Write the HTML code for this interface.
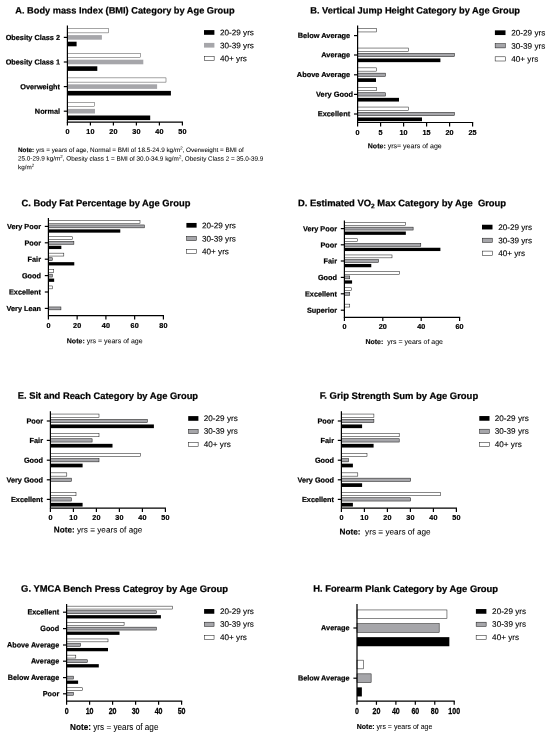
<!DOCTYPE html>
<html lang="en">
<head>
<meta charset="utf-8">
<title>Fitness categories by age group</title>
<style>
html,body{margin:0;padding:0;background:#fff;}
body{width:550px;height:736px;overflow:hidden;}
svg{display:block;font-family:"Liberation Sans",Arial,Helvetica,sans-serif;fill:#000;}
text{stroke:#000;stroke-width:0.12px;}
text.b,text tspan.b{stroke-width:0.22px;}
.nt text{stroke-width:0.04px;}
.nt text tspan.b{stroke-width:0.14px;}
</style>
</head>
<body>
<svg width="550" height="736" viewBox="0 0 550 736">
<defs><filter id="soft" x="0" y="0" width="550" height="736" filterUnits="userSpaceOnUse" color-interpolation-filters="sRGB"><feGaussianBlur stdDeviation="0.35"/></filter></defs>
<rect x="0" y="0" width="550" height="736" fill="#fff"/>
<g filter="url(#soft)">
<rect x="0" y="0" width="550" height="736" fill="#fff"/>
<g id="panelA">
<text transform="translate(124.90 13.50) matrix(1 0.0005 0 1 0 0)" text-anchor="middle" font-weight="bold" class="b" font-size="9.24" xml:space="preserve" style="white-space:pre">A. Body mass Index (BMI) Category by Age Group</text>
<rect x="67.40" y="28.70" width="41.10" height="4.2" fill="#fff" stroke="#111" stroke-width="0.38"/>
<rect x="67.40" y="35.10" width="34.50" height="4.6000000000000005" fill="#a6a6aa"/>
<rect x="67.40" y="41.70" width="9.20" height="4.6000000000000005" fill="#000"/>
<line x1="63.80" y1="37.4" x2="67.40" y2="37.4" stroke="#000" stroke-width="1.2"/>
<text transform="translate(60.00 40.00) matrix(1 0.0005 0 1 0 0)" text-anchor="end" font-weight="bold" class="b" font-size="7.3">Obesity Class 2</text>
<rect x="67.40" y="53.30" width="73.30" height="4.2" fill="#fff" stroke="#111" stroke-width="0.38"/>
<rect x="67.40" y="59.70" width="75.90" height="4.6000000000000005" fill="#a6a6aa"/>
<rect x="67.40" y="66.30" width="29.90" height="4.6000000000000005" fill="#000"/>
<line x1="63.80" y1="62" x2="67.40" y2="62" stroke="#000" stroke-width="1.2"/>
<text transform="translate(60.00 64.60) matrix(1 0.0005 0 1 0 0)" text-anchor="end" font-weight="bold" class="b" font-size="7.3">Obesity Class 1</text>
<rect x="67.40" y="77.90" width="98.60" height="4.2" fill="#fff" stroke="#111" stroke-width="0.38"/>
<rect x="67.40" y="84.30" width="89.70" height="4.6000000000000005" fill="#a6a6aa"/>
<rect x="67.40" y="90.90" width="103.50" height="4.6000000000000005" fill="#000"/>
<line x1="63.80" y1="86.6" x2="67.40" y2="86.6" stroke="#000" stroke-width="1.2"/>
<text transform="translate(60.00 89.20) matrix(1 0.0005 0 1 0 0)" text-anchor="end" font-weight="bold" class="b" font-size="7.3">Overweight</text>
<rect x="67.40" y="102.50" width="27.30" height="4.2" fill="#fff" stroke="#111" stroke-width="0.38"/>
<rect x="67.40" y="108.90" width="27.60" height="4.6000000000000005" fill="#a6a6aa"/>
<rect x="67.40" y="115.50" width="82.80" height="4.6000000000000005" fill="#000"/>
<line x1="63.80" y1="111.2" x2="67.40" y2="111.2" stroke="#000" stroke-width="1.2"/>
<text transform="translate(60.00 113.80) matrix(1 0.0005 0 1 0 0)" text-anchor="end" font-weight="bold" class="b" font-size="7.3">Normal</text>
<polyline points="67.40,25.6 67.40,122.1 183.00,122.1" fill="none" stroke="#000" stroke-width="1.2"/>
<line x1="67.40" y1="122.1" x2="67.40" y2="125.39999999999999" stroke="#000" stroke-width="1.2"/>
<text transform="translate(67.40 134.15) matrix(1 0.0005 0 1 0 0) scale(0.940 1.000)" text-anchor="middle" font-weight="bold" class="b" font-size="7.7">0</text>
<line x1="90.40" y1="122.1" x2="90.40" y2="125.39999999999999" stroke="#000" stroke-width="1.2"/>
<text transform="translate(90.40 134.15) matrix(1 0.0005 0 1 0 0) scale(0.940 1.000)" text-anchor="middle" font-weight="bold" class="b" font-size="7.7">10</text>
<line x1="113.40" y1="122.1" x2="113.40" y2="125.39999999999999" stroke="#000" stroke-width="1.2"/>
<text transform="translate(113.40 134.15) matrix(1 0.0005 0 1 0 0) scale(0.940 1.000)" text-anchor="middle" font-weight="bold" class="b" font-size="7.7">20</text>
<line x1="136.40" y1="122.1" x2="136.40" y2="125.39999999999999" stroke="#000" stroke-width="1.2"/>
<text transform="translate(136.40 134.15) matrix(1 0.0005 0 1 0 0) scale(0.940 1.000)" text-anchor="middle" font-weight="bold" class="b" font-size="7.7">30</text>
<line x1="159.40" y1="122.1" x2="159.40" y2="125.39999999999999" stroke="#000" stroke-width="1.2"/>
<text transform="translate(159.40 134.15) matrix(1 0.0005 0 1 0 0) scale(0.940 1.000)" text-anchor="middle" font-weight="bold" class="b" font-size="7.7">40</text>
<line x1="182.40" y1="122.1" x2="182.40" y2="125.39999999999999" stroke="#000" stroke-width="1.2"/>
<text transform="translate(182.40 134.15) matrix(1 0.0005 0 1 0 0) scale(0.940 1.000)" text-anchor="middle" font-weight="bold" class="b" font-size="7.7">50</text>
<rect x="204" y="30.10" width="10.40" height="4.7" fill="#000"/>
<text transform="translate(220.00 35.35) matrix(1 0.0005 0 1 0 0)" font-size="8.15">20-29 yrs</text>
<rect x="204" y="42.90" width="10.40" height="4.7" fill="#a6a6aa"/>
<text transform="translate(220.00 48.15) matrix(1 0.0005 0 1 0 0)" font-size="8.15">30-39 yrs</text>
<rect x="204.25" y="56.35" width="9.90" height="4.2" fill="#fff" stroke="#111" stroke-width="0.5"/>
<text transform="translate(220.00 61.35) matrix(1 0.0005 0 1 0 0)" font-size="8.15">40+ yrs</text>
</g>
<g id="panelB">
<text transform="translate(415.10 13.50) matrix(1 0.0005 0 1 0 0)" text-anchor="middle" font-weight="bold" class="b" font-size="9.28" xml:space="preserve" style="white-space:pre">B. Vertical Jump Height Category by Age Group</text>
<rect x="357.60" y="28.65" width="18.65" height="3.3" fill="#fff" stroke="#111" stroke-width="0.5"/>
<line x1="354.00" y1="35.6" x2="357.60" y2="35.6" stroke="#000" stroke-width="1.2"/>
<text transform="translate(350.20 37.90) matrix(1 0.0005 0 1 0 0) scale(1.015 1.000)" text-anchor="end" font-weight="bold" class="b" font-size="7.3">Below Average</text>
<rect x="357.60" y="48.05" width="50.85" height="3.3" fill="#fff" stroke="#111" stroke-width="0.5"/>
<rect x="357.60" y="53.35" width="96.85" height="3.3" fill="#a6a6aa" stroke="#111" stroke-width="0.5"/>
<rect x="357.60" y="58.45" width="82.80" height="3.6999999999999997" fill="#000"/>
<line x1="354.00" y1="55" x2="357.60" y2="55" stroke="#000" stroke-width="1.2"/>
<text transform="translate(350.20 57.30) matrix(1 0.0005 0 1 0 0) scale(1.015 1.000)" text-anchor="end" font-weight="bold" class="b" font-size="7.3">Average</text>
<rect x="357.60" y="67.85" width="18.65" height="3.3" fill="#fff" stroke="#111" stroke-width="0.5"/>
<rect x="357.60" y="73.15" width="27.85" height="3.3" fill="#a6a6aa" stroke="#111" stroke-width="0.5"/>
<rect x="357.60" y="78.25" width="18.40" height="3.6999999999999997" fill="#000"/>
<line x1="354.00" y1="74.8" x2="357.60" y2="74.8" stroke="#000" stroke-width="1.2"/>
<text transform="translate(350.20 77.10) matrix(1 0.0005 0 1 0 0) scale(1.015 1.000)" text-anchor="end" font-weight="bold" class="b" font-size="7.3">Above Average</text>
<rect x="357.60" y="87.45" width="18.65" height="3.3" fill="#fff" stroke="#111" stroke-width="0.5"/>
<rect x="357.60" y="92.75" width="27.85" height="3.3" fill="#a6a6aa" stroke="#111" stroke-width="0.5"/>
<rect x="357.60" y="97.85" width="41.40" height="3.6999999999999997" fill="#000"/>
<line x1="354.00" y1="94.4" x2="357.60" y2="94.4" stroke="#000" stroke-width="1.2"/>
<text transform="translate(353.00 96.70) matrix(1 0.0005 0 1 0 0) scale(1.015 1.000)" text-anchor="end" font-weight="bold" class="b" font-size="7.3">Very Good</text>
<rect x="357.60" y="107.05" width="50.85" height="3.3" fill="#fff" stroke="#111" stroke-width="0.5"/>
<rect x="357.60" y="112.35" width="96.85" height="3.3" fill="#a6a6aa" stroke="#111" stroke-width="0.5"/>
<rect x="357.60" y="117.45" width="64.40" height="3.6999999999999997" fill="#000"/>
<line x1="354.00" y1="114" x2="357.60" y2="114" stroke="#000" stroke-width="1.2"/>
<text transform="translate(350.20 116.30) matrix(1 0.0005 0 1 0 0) scale(1.015 1.000)" text-anchor="end" font-weight="bold" class="b" font-size="7.3">Excellent</text>
<polyline points="357.60,25.6 357.60,122.5 473.20,122.5" fill="none" stroke="#000" stroke-width="1.2"/>
<line x1="357.60" y1="122.5" x2="357.60" y2="126.5" stroke="#000" stroke-width="1.2"/>
<text transform="translate(357.60 135.15) matrix(1 0.0005 0 1 0 0) scale(0.940 1.000)" text-anchor="middle" font-weight="bold" class="b" font-size="7.7">0</text>
<line x1="380.60" y1="122.5" x2="380.60" y2="126.5" stroke="#000" stroke-width="1.2"/>
<text transform="translate(380.60 135.15) matrix(1 0.0005 0 1 0 0) scale(0.940 1.000)" text-anchor="middle" font-weight="bold" class="b" font-size="7.7">5</text>
<line x1="403.60" y1="122.5" x2="403.60" y2="126.5" stroke="#000" stroke-width="1.2"/>
<text transform="translate(403.60 135.15) matrix(1 0.0005 0 1 0 0) scale(0.940 1.000)" text-anchor="middle" font-weight="bold" class="b" font-size="7.7">10</text>
<line x1="426.60" y1="122.5" x2="426.60" y2="126.5" stroke="#000" stroke-width="1.2"/>
<text transform="translate(426.60 135.15) matrix(1 0.0005 0 1 0 0) scale(0.940 1.000)" text-anchor="middle" font-weight="bold" class="b" font-size="7.7">15</text>
<line x1="449.60" y1="122.5" x2="449.60" y2="126.5" stroke="#000" stroke-width="1.2"/>
<text transform="translate(449.60 135.15) matrix(1 0.0005 0 1 0 0) scale(0.940 1.000)" text-anchor="middle" font-weight="bold" class="b" font-size="7.7">20</text>
<line x1="472.60" y1="122.5" x2="472.60" y2="126.5" stroke="#000" stroke-width="1.2"/>
<text transform="translate(472.60 135.15) matrix(1 0.0005 0 1 0 0) scale(0.940 1.000)" text-anchor="middle" font-weight="bold" class="b" font-size="7.7">25</text>
<rect x="494.9" y="30.35" width="10.60" height="4.7" fill="#000"/>
<text transform="translate(511.30 35.60) matrix(1 0.0005 0 1 0 0)" font-size="8.15">20-29 yrs</text>
<rect x="495.15" y="43.70" width="10.10" height="4.2" fill="#a6a6aa" stroke="#111" stroke-width="0.5"/>
<text transform="translate(511.30 48.70) matrix(1 0.0005 0 1 0 0)" font-size="8.15">30-39 yrs</text>
<rect x="495.15" y="56.80" width="10.10" height="4.2" fill="#fff" stroke="#111" stroke-width="0.5"/>
<text transform="translate(511.30 61.80) matrix(1 0.0005 0 1 0 0)" font-size="8.15">40+ yrs</text>
</g>
<g id="panelC">
<text transform="translate(105.90 206.20) matrix(1 0.0005 0 1 0 0)" text-anchor="middle" font-weight="bold" class="b" font-size="9.35" xml:space="preserve" style="white-space:pre">C. Body Fat Percentage by Age Group</text>
<rect x="48.40" y="220.35" width="91.60" height="2.9" fill="#fff" stroke="#111" stroke-width="0.5"/>
<rect x="48.40" y="224.95" width="95.91" height="2.9" fill="#a6a6aa" stroke="#111" stroke-width="0.5"/>
<rect x="48.40" y="229.35" width="71.88" height="3.3" fill="#000"/>
<line x1="44.80" y1="226.4" x2="48.40" y2="226.4" stroke="#000" stroke-width="1.2"/>
<text transform="translate(41.00 229.00) matrix(1 0.0005 0 1 0 0)" text-anchor="end" font-weight="bold" class="b" font-size="7.3">Very Poor</text>
<rect x="48.40" y="236.75" width="24.04" height="2.9" fill="#fff" stroke="#111" stroke-width="0.5"/>
<rect x="48.40" y="241.35" width="25.48" height="2.9" fill="#a6a6aa" stroke="#111" stroke-width="0.5"/>
<rect x="48.40" y="245.75" width="12.94" height="3.3" fill="#000"/>
<line x1="44.80" y1="242.8" x2="48.40" y2="242.8" stroke="#000" stroke-width="1.2"/>
<text transform="translate(41.00 245.40) matrix(1 0.0005 0 1 0 0)" text-anchor="end" font-weight="bold" class="b" font-size="7.3">Poor</text>
<rect x="48.40" y="253.15" width="15.41" height="2.9" fill="#fff" stroke="#111" stroke-width="0.5"/>
<rect x="48.40" y="257.75" width="3.91" height="2.9" fill="#a6a6aa" stroke="#111" stroke-width="0.5"/>
<rect x="48.40" y="262.15" width="25.88" height="3.3" fill="#000"/>
<line x1="44.80" y1="259.2" x2="48.40" y2="259.2" stroke="#000" stroke-width="1.2"/>
<text transform="translate(41.00 261.80) matrix(1 0.0005 0 1 0 0)" text-anchor="end" font-weight="bold" class="b" font-size="7.3">Fair</text>
<rect x="48.40" y="269.55" width="5.35" height="2.9" fill="#fff" stroke="#111" stroke-width="0.5"/>
<rect x="48.40" y="274.15" width="3.91" height="2.9" fill="#a6a6aa" stroke="#111" stroke-width="0.5"/>
<rect x="48.40" y="278.55" width="5.75" height="3.3" fill="#000"/>
<line x1="44.80" y1="275.6" x2="48.40" y2="275.6" stroke="#000" stroke-width="1.2"/>
<text transform="translate(41.00 278.20) matrix(1 0.0005 0 1 0 0)" text-anchor="end" font-weight="bold" class="b" font-size="7.3">Good</text>
<rect x="48.40" y="285.95" width="3.91" height="2.9" fill="#fff" stroke="#111" stroke-width="0.5"/>
<line x1="44.80" y1="292" x2="48.40" y2="292" stroke="#000" stroke-width="1.2"/>
<text transform="translate(41.00 294.60) matrix(1 0.0005 0 1 0 0)" text-anchor="end" font-weight="bold" class="b" font-size="7.3">Excellent</text>
<rect x="48.40" y="306.95" width="12.54" height="2.9" fill="#a6a6aa" stroke="#111" stroke-width="0.5"/>
<line x1="44.80" y1="308.4" x2="48.40" y2="308.4" stroke="#000" stroke-width="1.2"/>
<text transform="translate(41.00 311.00) matrix(1 0.0005 0 1 0 0)" text-anchor="end" font-weight="bold" class="b" font-size="7.3">Very Lean</text>
<polyline points="48.40,218.0 48.40,315.7 164.00,315.7" fill="none" stroke="#000" stroke-width="1.2"/>
<line x1="48.40" y1="315.7" x2="48.40" y2="319.4" stroke="#000" stroke-width="1.2"/>
<text transform="translate(48.40 327.95) matrix(1 0.0005 0 1 0 0) scale(0.940 1.000)" text-anchor="middle" font-weight="bold" class="b" font-size="7.7">0</text>
<line x1="77.15" y1="315.7" x2="77.15" y2="319.4" stroke="#000" stroke-width="1.2"/>
<text transform="translate(77.15 327.95) matrix(1 0.0005 0 1 0 0) scale(0.940 1.000)" text-anchor="middle" font-weight="bold" class="b" font-size="7.7">20</text>
<line x1="105.90" y1="315.7" x2="105.90" y2="319.4" stroke="#000" stroke-width="1.2"/>
<text transform="translate(105.90 327.95) matrix(1 0.0005 0 1 0 0) scale(0.940 1.000)" text-anchor="middle" font-weight="bold" class="b" font-size="7.7">40</text>
<line x1="134.65" y1="315.7" x2="134.65" y2="319.4" stroke="#000" stroke-width="1.2"/>
<text transform="translate(134.65 327.95) matrix(1 0.0005 0 1 0 0) scale(0.940 1.000)" text-anchor="middle" font-weight="bold" class="b" font-size="7.7">60</text>
<line x1="163.40" y1="315.7" x2="163.40" y2="319.4" stroke="#000" stroke-width="1.2"/>
<text transform="translate(163.40 327.95) matrix(1 0.0005 0 1 0 0) scale(0.940 1.000)" text-anchor="middle" font-weight="bold" class="b" font-size="7.7">80</text>
<rect x="186.4" y="222.95" width="10.20" height="4.7" fill="#000"/>
<text transform="translate(202.00 228.20) matrix(1 0.0005 0 1 0 0)" font-size="8.15">20-29 yrs</text>
<rect x="186.65" y="236.40" width="9.70" height="4.2" fill="#a6a6aa" stroke="#111" stroke-width="0.5"/>
<text transform="translate(202.00 241.40) matrix(1 0.0005 0 1 0 0)" font-size="8.15">30-39 yrs</text>
<rect x="186.65" y="249.30" width="9.70" height="4.2" fill="#fff" stroke="#111" stroke-width="0.5"/>
<text transform="translate(202.00 254.30) matrix(1 0.0005 0 1 0 0)" font-size="8.15">40+ yrs</text>
</g>
<g id="panelD">
<text transform="translate(402.00 206.20) matrix(1 0.0005 0 1 0 0)" text-anchor="middle" font-weight="bold" class="b" font-size="9.42" xml:space="preserve" style="white-space:pre">D. Estimated VO<tspan dy="2" font-size="6.6">2</tspan><tspan dy="-2"> Max Category by Age  Group</tspan></text>
<rect x="344.40" y="222.55" width="61.04" height="2.9" fill="#fff" stroke="#111" stroke-width="0.5"/>
<rect x="344.40" y="227.15" width="68.72" height="2.9" fill="#a6a6aa" stroke="#111" stroke-width="0.5"/>
<rect x="344.40" y="231.55" width="61.44" height="3.3" fill="#000"/>
<line x1="340.80" y1="228.6" x2="344.40" y2="228.6" stroke="#000" stroke-width="1.2"/>
<text transform="translate(337.00 231.20) matrix(1 0.0005 0 1 0 0)" text-anchor="end" font-weight="bold" class="b" font-size="7.3">Very Poor</text>
<rect x="344.40" y="238.75" width="13.04" height="2.9" fill="#fff" stroke="#111" stroke-width="0.5"/>
<rect x="344.40" y="243.35" width="76.40" height="2.9" fill="#a6a6aa" stroke="#111" stroke-width="0.5"/>
<rect x="344.40" y="247.75" width="96.00" height="3.3" fill="#000"/>
<line x1="340.80" y1="244.8" x2="344.40" y2="244.8" stroke="#000" stroke-width="1.2"/>
<text transform="translate(337.00 247.40) matrix(1 0.0005 0 1 0 0)" text-anchor="end" font-weight="bold" class="b" font-size="7.3">Poor</text>
<rect x="344.40" y="254.95" width="47.60" height="2.9" fill="#fff" stroke="#111" stroke-width="0.5"/>
<rect x="344.40" y="259.55" width="34.16" height="2.9" fill="#a6a6aa" stroke="#111" stroke-width="0.5"/>
<rect x="344.40" y="263.95" width="26.88" height="3.3" fill="#000"/>
<line x1="340.80" y1="261" x2="344.40" y2="261" stroke="#000" stroke-width="1.2"/>
<text transform="translate(337.00 263.60) matrix(1 0.0005 0 1 0 0)" text-anchor="end" font-weight="bold" class="b" font-size="7.3">Fair</text>
<rect x="344.40" y="271.35" width="55.28" height="2.9" fill="#fff" stroke="#111" stroke-width="0.5"/>
<rect x="344.40" y="275.95" width="5.36" height="2.9" fill="#a6a6aa" stroke="#111" stroke-width="0.5"/>
<rect x="344.40" y="280.35" width="7.68" height="3.3" fill="#000"/>
<line x1="340.80" y1="277.4" x2="344.40" y2="277.4" stroke="#000" stroke-width="1.2"/>
<text transform="translate(337.00 280.00) matrix(1 0.0005 0 1 0 0)" text-anchor="end" font-weight="bold" class="b" font-size="7.3">Good</text>
<rect x="344.40" y="287.75" width="7.28" height="2.9" fill="#fff" stroke="#111" stroke-width="0.5"/>
<rect x="344.40" y="292.35" width="5.36" height="2.9" fill="#a6a6aa" stroke="#111" stroke-width="0.5"/>
<line x1="340.80" y1="293.8" x2="344.40" y2="293.8" stroke="#000" stroke-width="1.2"/>
<text transform="translate(337.00 296.40) matrix(1 0.0005 0 1 0 0)" text-anchor="end" font-weight="bold" class="b" font-size="7.3">Excellent</text>
<rect x="344.40" y="304.15" width="5.36" height="2.9" fill="#fff" stroke="#111" stroke-width="0.5"/>
<line x1="340.80" y1="310.2" x2="344.40" y2="310.2" stroke="#000" stroke-width="1.2"/>
<text transform="translate(337.00 312.80) matrix(1 0.0005 0 1 0 0)" text-anchor="end" font-weight="bold" class="b" font-size="7.3">Superior</text>
<polyline points="344.40,220.4 344.40,317.3 460.20,317.3" fill="none" stroke="#000" stroke-width="1.2"/>
<line x1="344.40" y1="317.3" x2="344.40" y2="321.0" stroke="#000" stroke-width="1.2"/>
<text transform="translate(344.40 329.25) matrix(1 0.0005 0 1 0 0) scale(0.940 1.000)" text-anchor="middle" font-weight="bold" class="b" font-size="7.7">0</text>
<line x1="382.80" y1="317.3" x2="382.80" y2="321.0" stroke="#000" stroke-width="1.2"/>
<text transform="translate(382.80 329.25) matrix(1 0.0005 0 1 0 0) scale(0.940 1.000)" text-anchor="middle" font-weight="bold" class="b" font-size="7.7">20</text>
<line x1="421.20" y1="317.3" x2="421.20" y2="321.0" stroke="#000" stroke-width="1.2"/>
<text transform="translate(421.20 329.25) matrix(1 0.0005 0 1 0 0) scale(0.940 1.000)" text-anchor="middle" font-weight="bold" class="b" font-size="7.7">40</text>
<line x1="459.60" y1="317.3" x2="459.60" y2="321.0" stroke="#000" stroke-width="1.2"/>
<text transform="translate(459.60 329.25) matrix(1 0.0005 0 1 0 0) scale(0.940 1.000)" text-anchor="middle" font-weight="bold" class="b" font-size="7.7">60</text>
<rect x="482.0" y="224.75" width="10.50" height="4.7" fill="#000"/>
<text transform="translate(498.20 230.00) matrix(1 0.0005 0 1 0 0)" font-size="8.15">20-29 yrs</text>
<rect x="482.25" y="238.20" width="10.00" height="4.2" fill="#a6a6aa" stroke="#111" stroke-width="0.5"/>
<text transform="translate(498.20 243.20) matrix(1 0.0005 0 1 0 0)" font-size="8.15">30-39 yrs</text>
<rect x="482.25" y="251.10" width="10.00" height="4.2" fill="#fff" stroke="#111" stroke-width="0.5"/>
<text transform="translate(498.20 256.10) matrix(1 0.0005 0 1 0 0)" font-size="8.15">40+ yrs</text>
</g>
<g id="panelE">
<text transform="translate(107.90 398.90) matrix(1 0.0005 0 1 0 0)" text-anchor="middle" font-weight="bold" class="b" font-size="9.35" xml:space="preserve" style="white-space:pre">E. Sit and Reach Category by Age Group</text>
<rect x="50.40" y="414.05" width="48.60" height="3.3" fill="#fff" stroke="#111" stroke-width="0.5"/>
<rect x="50.40" y="419.35" width="96.90" height="3.3" fill="#a6a6aa" stroke="#111" stroke-width="0.5"/>
<rect x="50.40" y="424.45" width="103.50" height="3.6999999999999997" fill="#000"/>
<line x1="46.80" y1="421" x2="50.40" y2="421" stroke="#000" stroke-width="1.2"/>
<text transform="translate(43.00 423.60) matrix(1 0.0005 0 1 0 0)" text-anchor="end" font-weight="bold" class="b" font-size="7.3">Poor</text>
<rect x="50.40" y="433.45" width="48.60" height="3.3" fill="#fff" stroke="#111" stroke-width="0.5"/>
<rect x="50.40" y="438.75" width="41.70" height="3.3" fill="#a6a6aa" stroke="#111" stroke-width="0.5"/>
<rect x="50.40" y="443.85" width="62.10" height="3.6999999999999997" fill="#000"/>
<line x1="46.80" y1="440.4" x2="50.40" y2="440.4" stroke="#000" stroke-width="1.2"/>
<text transform="translate(43.00 443.00) matrix(1 0.0005 0 1 0 0)" text-anchor="end" font-weight="bold" class="b" font-size="7.3">Fair</text>
<rect x="50.40" y="453.25" width="90.00" height="3.3" fill="#fff" stroke="#111" stroke-width="0.5"/>
<rect x="50.40" y="458.55" width="48.60" height="3.3" fill="#a6a6aa" stroke="#111" stroke-width="0.5"/>
<rect x="50.40" y="463.65" width="32.20" height="3.6999999999999997" fill="#000"/>
<line x1="46.80" y1="460.2" x2="50.40" y2="460.2" stroke="#000" stroke-width="1.2"/>
<text transform="translate(43.00 462.80) matrix(1 0.0005 0 1 0 0)" text-anchor="end" font-weight="bold" class="b" font-size="7.3">Good</text>
<rect x="50.40" y="472.85" width="16.40" height="3.3" fill="#fff" stroke="#111" stroke-width="0.5"/>
<rect x="50.40" y="478.15" width="21.00" height="3.3" fill="#a6a6aa" stroke="#111" stroke-width="0.5"/>
<line x1="46.80" y1="479.8" x2="50.40" y2="479.8" stroke="#000" stroke-width="1.2"/>
<text transform="translate(43.00 482.40) matrix(1 0.0005 0 1 0 0)" text-anchor="end" font-weight="bold" class="b" font-size="7.3">Very Good</text>
<rect x="50.40" y="492.45" width="25.60" height="3.3" fill="#fff" stroke="#111" stroke-width="0.5"/>
<rect x="50.40" y="497.75" width="21.00" height="3.3" fill="#a6a6aa" stroke="#111" stroke-width="0.5"/>
<rect x="50.40" y="502.85" width="32.20" height="3.6999999999999997" fill="#000"/>
<line x1="46.80" y1="499.4" x2="50.40" y2="499.4" stroke="#000" stroke-width="1.2"/>
<text transform="translate(43.00 502.00) matrix(1 0.0005 0 1 0 0)" text-anchor="end" font-weight="bold" class="b" font-size="7.3">Excellent</text>
<polyline points="50.40,411.3 50.40,508.2 166.00,508.2" fill="none" stroke="#000" stroke-width="1.2"/>
<line x1="50.40" y1="508.2" x2="50.40" y2="511.9" stroke="#000" stroke-width="1.2"/>
<text transform="translate(50.40 520.05) matrix(1 0.0005 0 1 0 0) scale(0.940 1.000)" text-anchor="middle" font-weight="bold" class="b" font-size="7.7">0</text>
<line x1="73.40" y1="508.2" x2="73.40" y2="511.9" stroke="#000" stroke-width="1.2"/>
<text transform="translate(73.40 520.05) matrix(1 0.0005 0 1 0 0) scale(0.940 1.000)" text-anchor="middle" font-weight="bold" class="b" font-size="7.7">10</text>
<line x1="96.40" y1="508.2" x2="96.40" y2="511.9" stroke="#000" stroke-width="1.2"/>
<text transform="translate(96.40 520.05) matrix(1 0.0005 0 1 0 0) scale(0.940 1.000)" text-anchor="middle" font-weight="bold" class="b" font-size="7.7">20</text>
<line x1="119.40" y1="508.2" x2="119.40" y2="511.9" stroke="#000" stroke-width="1.2"/>
<text transform="translate(119.40 520.05) matrix(1 0.0005 0 1 0 0) scale(0.940 1.000)" text-anchor="middle" font-weight="bold" class="b" font-size="7.7">30</text>
<line x1="142.40" y1="508.2" x2="142.40" y2="511.9" stroke="#000" stroke-width="1.2"/>
<text transform="translate(142.40 520.05) matrix(1 0.0005 0 1 0 0) scale(0.940 1.000)" text-anchor="middle" font-weight="bold" class="b" font-size="7.7">40</text>
<line x1="165.40" y1="508.2" x2="165.40" y2="511.9" stroke="#000" stroke-width="1.2"/>
<text transform="translate(165.40 520.05) matrix(1 0.0005 0 1 0 0) scale(0.940 1.000)" text-anchor="middle" font-weight="bold" class="b" font-size="7.7">50</text>
<rect x="188.2" y="416.10" width="10.20" height="4.7" fill="#000"/>
<text transform="translate(203.80 420.90) matrix(1 0.0005 0 1 0 0)" font-size="8.15">20-29 yrs</text>
<rect x="188.45" y="429.25" width="9.70" height="4.2" fill="#a6a6aa" stroke="#111" stroke-width="0.5"/>
<text transform="translate(203.80 433.80) matrix(1 0.0005 0 1 0 0)" font-size="8.15">30-39 yrs</text>
<rect x="188.45" y="442.45" width="9.70" height="4.2" fill="#fff" stroke="#111" stroke-width="0.5"/>
<text transform="translate(203.80 447.00) matrix(1 0.0005 0 1 0 0)" font-size="8.15">40+ yrs</text>
</g>
<g id="panelF">
<text transform="translate(398.90 398.90) matrix(1 0.0005 0 1 0 0)" text-anchor="middle" font-weight="bold" class="b" font-size="9.45" xml:space="preserve" style="white-space:pre">F. Grip Strength Sum by Age Group</text>
<rect x="341.40" y="414.05" width="32.50" height="3.3" fill="#fff" stroke="#111" stroke-width="0.5"/>
<rect x="341.40" y="419.35" width="32.50" height="3.3" fill="#a6a6aa" stroke="#111" stroke-width="0.5"/>
<rect x="341.40" y="424.45" width="20.70" height="3.6999999999999997" fill="#000"/>
<line x1="337.80" y1="421" x2="341.40" y2="421" stroke="#000" stroke-width="1.2"/>
<text transform="translate(334.00 423.60) matrix(1 0.0005 0 1 0 0)" text-anchor="end" font-weight="bold" class="b" font-size="7.3">Poor</text>
<rect x="341.40" y="433.45" width="57.80" height="3.3" fill="#fff" stroke="#111" stroke-width="0.5"/>
<rect x="341.40" y="438.75" width="57.80" height="3.3" fill="#a6a6aa" stroke="#111" stroke-width="0.5"/>
<rect x="341.40" y="443.85" width="32.20" height="3.6999999999999997" fill="#000"/>
<line x1="337.80" y1="440.4" x2="341.40" y2="440.4" stroke="#000" stroke-width="1.2"/>
<text transform="translate(334.00 443.00) matrix(1 0.0005 0 1 0 0)" text-anchor="end" font-weight="bold" class="b" font-size="7.3">Fair</text>
<rect x="341.40" y="453.25" width="25.60" height="3.3" fill="#fff" stroke="#111" stroke-width="0.5"/>
<rect x="341.40" y="458.55" width="7.20" height="3.3" fill="#a6a6aa" stroke="#111" stroke-width="0.5"/>
<rect x="341.40" y="463.65" width="11.50" height="3.6999999999999997" fill="#000"/>
<line x1="337.80" y1="460.2" x2="341.40" y2="460.2" stroke="#000" stroke-width="1.2"/>
<text transform="translate(334.00 462.80) matrix(1 0.0005 0 1 0 0)" text-anchor="end" font-weight="bold" class="b" font-size="7.3">Good</text>
<rect x="341.40" y="472.85" width="16.40" height="3.3" fill="#fff" stroke="#111" stroke-width="0.5"/>
<rect x="341.40" y="478.15" width="69.30" height="3.3" fill="#a6a6aa" stroke="#111" stroke-width="0.5"/>
<rect x="341.40" y="483.25" width="20.70" height="3.6999999999999997" fill="#000"/>
<line x1="337.80" y1="479.8" x2="341.40" y2="479.8" stroke="#000" stroke-width="1.2"/>
<text transform="translate(334.00 482.40) matrix(1 0.0005 0 1 0 0)" text-anchor="end" font-weight="bold" class="b" font-size="7.3">Very Good</text>
<rect x="341.40" y="492.45" width="99.20" height="3.3" fill="#fff" stroke="#111" stroke-width="0.5"/>
<rect x="341.40" y="497.75" width="69.30" height="3.3" fill="#a6a6aa" stroke="#111" stroke-width="0.5"/>
<rect x="341.40" y="502.85" width="11.50" height="3.6999999999999997" fill="#000"/>
<line x1="337.80" y1="499.4" x2="341.40" y2="499.4" stroke="#000" stroke-width="1.2"/>
<text transform="translate(334.00 502.00) matrix(1 0.0005 0 1 0 0)" text-anchor="end" font-weight="bold" class="b" font-size="7.3">Excellent</text>
<polyline points="341.40,411.3 341.40,508.2 457.00,508.2" fill="none" stroke="#000" stroke-width="1.2"/>
<line x1="341.40" y1="508.2" x2="341.40" y2="511.9" stroke="#000" stroke-width="1.2"/>
<text transform="translate(341.40 520.05) matrix(1 0.0005 0 1 0 0) scale(0.940 1.000)" text-anchor="middle" font-weight="bold" class="b" font-size="7.7">0</text>
<line x1="364.40" y1="508.2" x2="364.40" y2="511.9" stroke="#000" stroke-width="1.2"/>
<text transform="translate(364.40 520.05) matrix(1 0.0005 0 1 0 0) scale(0.940 1.000)" text-anchor="middle" font-weight="bold" class="b" font-size="7.7">10</text>
<line x1="387.40" y1="508.2" x2="387.40" y2="511.9" stroke="#000" stroke-width="1.2"/>
<text transform="translate(387.40 520.05) matrix(1 0.0005 0 1 0 0) scale(0.940 1.000)" text-anchor="middle" font-weight="bold" class="b" font-size="7.7">20</text>
<line x1="410.40" y1="508.2" x2="410.40" y2="511.9" stroke="#000" stroke-width="1.2"/>
<text transform="translate(410.40 520.05) matrix(1 0.0005 0 1 0 0) scale(0.940 1.000)" text-anchor="middle" font-weight="bold" class="b" font-size="7.7">30</text>
<line x1="433.40" y1="508.2" x2="433.40" y2="511.9" stroke="#000" stroke-width="1.2"/>
<text transform="translate(433.40 520.05) matrix(1 0.0005 0 1 0 0) scale(0.940 1.000)" text-anchor="middle" font-weight="bold" class="b" font-size="7.7">40</text>
<line x1="456.40" y1="508.2" x2="456.40" y2="511.9" stroke="#000" stroke-width="1.2"/>
<text transform="translate(456.40 520.05) matrix(1 0.0005 0 1 0 0) scale(0.940 1.000)" text-anchor="middle" font-weight="bold" class="b" font-size="7.7">50</text>
<rect x="479.3" y="416.05" width="10.20" height="4.7" fill="#000"/>
<text transform="translate(494.80 420.90) matrix(1 0.0005 0 1 0 0)" font-size="8.15">20-29 yrs</text>
<rect x="479.55" y="429.20" width="9.70" height="4.2" fill="#a6a6aa" stroke="#111" stroke-width="0.5"/>
<text transform="translate(494.80 433.80) matrix(1 0.0005 0 1 0 0)" font-size="8.15">30-39 yrs</text>
<rect x="479.55" y="442.40" width="9.70" height="4.2" fill="#fff" stroke="#111" stroke-width="0.5"/>
<text transform="translate(494.80 447.00) matrix(1 0.0005 0 1 0 0)" font-size="8.15">40+ yrs</text>
</g>
<g id="panelG">
<text transform="translate(124.50 591.90) matrix(1 0.0005 0 1 0 0)" text-anchor="middle" font-weight="bold" class="b" font-size="9.4" xml:space="preserve" style="white-space:pre">G. YMCA Bench Press Categroy by Age Group</text>
<rect x="66.60" y="606.15" width="105.80" height="2.9" fill="#fff" stroke="#111" stroke-width="0.5"/>
<rect x="66.60" y="610.75" width="89.70" height="2.9" fill="#a6a6aa" stroke="#111" stroke-width="0.5"/>
<rect x="66.60" y="615.15" width="94.30" height="3.3" fill="#000"/>
<line x1="63.00" y1="612.2" x2="66.60" y2="612.2" stroke="#000" stroke-width="1.2"/>
<text transform="translate(59.20 614.60) matrix(1 0.0005 0 1 0 0) scale(0.995 1.040)" text-anchor="end" font-weight="bold" class="b" font-size="7.3">Excellent</text>
<rect x="66.60" y="622.55" width="57.50" height="2.9" fill="#fff" stroke="#111" stroke-width="0.5"/>
<rect x="66.60" y="627.15" width="89.70" height="2.9" fill="#a6a6aa" stroke="#111" stroke-width="0.5"/>
<rect x="66.60" y="631.55" width="52.90" height="3.3" fill="#000"/>
<line x1="63.00" y1="628.6" x2="66.60" y2="628.6" stroke="#000" stroke-width="1.2"/>
<text transform="translate(59.20 631.00) matrix(1 0.0005 0 1 0 0) scale(0.995 1.040)" text-anchor="end" font-weight="bold" class="b" font-size="7.3">Good</text>
<rect x="66.60" y="638.95" width="41.40" height="2.9" fill="#fff" stroke="#111" stroke-width="0.5"/>
<rect x="66.60" y="643.55" width="13.80" height="2.9" fill="#a6a6aa" stroke="#111" stroke-width="0.5"/>
<rect x="66.60" y="647.95" width="41.40" height="3.3" fill="#000"/>
<line x1="63.00" y1="645" x2="66.60" y2="645" stroke="#000" stroke-width="1.2"/>
<text transform="translate(59.20 647.40) matrix(1 0.0005 0 1 0 0) scale(0.995 1.040)" text-anchor="end" font-weight="bold" class="b" font-size="7.3">Above Average</text>
<rect x="66.60" y="655.15" width="9.20" height="2.9" fill="#fff" stroke="#111" stroke-width="0.5"/>
<rect x="66.60" y="659.75" width="20.70" height="2.9" fill="#a6a6aa" stroke="#111" stroke-width="0.5"/>
<rect x="66.60" y="664.15" width="32.20" height="3.3" fill="#000"/>
<line x1="63.00" y1="661.2" x2="66.60" y2="661.2" stroke="#000" stroke-width="1.2"/>
<text transform="translate(59.20 663.60) matrix(1 0.0005 0 1 0 0) scale(0.995 1.040)" text-anchor="end" font-weight="bold" class="b" font-size="7.3">Average</text>
<rect x="66.60" y="676.15" width="6.90" height="2.9" fill="#a6a6aa" stroke="#111" stroke-width="0.5"/>
<rect x="66.60" y="680.55" width="11.50" height="3.3" fill="#000"/>
<line x1="63.00" y1="677.6" x2="66.60" y2="677.6" stroke="#000" stroke-width="1.2"/>
<text transform="translate(59.20 680.00) matrix(1 0.0005 0 1 0 0) scale(0.995 1.040)" text-anchor="end" font-weight="bold" class="b" font-size="7.3">Below Average</text>
<rect x="66.60" y="687.75" width="16.10" height="2.9" fill="#fff" stroke="#111" stroke-width="0.5"/>
<rect x="66.60" y="692.35" width="6.90" height="2.9" fill="#a6a6aa" stroke="#111" stroke-width="0.5"/>
<line x1="63.00" y1="693.8" x2="66.60" y2="693.8" stroke="#000" stroke-width="1.2"/>
<text transform="translate(59.20 696.20) matrix(1 0.0005 0 1 0 0) scale(0.995 1.040)" text-anchor="end" font-weight="bold" class="b" font-size="7.3">Poor</text>
<polyline points="66.60,604 66.60,701.1 182.20,701.1" fill="none" stroke="#000" stroke-width="1.2"/>
<line x1="66.60" y1="701.1" x2="66.60" y2="704.8000000000001" stroke="#000" stroke-width="1.2"/>
<text transform="translate(66.60 713.75) matrix(1 0.0005 0 1 0 0) scale(0.920 1.140)" text-anchor="middle" font-weight="bold" class="b" font-size="7.7">0</text>
<line x1="89.60" y1="701.1" x2="89.60" y2="704.8000000000001" stroke="#000" stroke-width="1.2"/>
<text transform="translate(89.60 713.75) matrix(1 0.0005 0 1 0 0) scale(0.920 1.140)" text-anchor="middle" font-weight="bold" class="b" font-size="7.7">10</text>
<line x1="112.60" y1="701.1" x2="112.60" y2="704.8000000000001" stroke="#000" stroke-width="1.2"/>
<text transform="translate(112.60 713.75) matrix(1 0.0005 0 1 0 0) scale(0.920 1.140)" text-anchor="middle" font-weight="bold" class="b" font-size="7.7">20</text>
<line x1="135.60" y1="701.1" x2="135.60" y2="704.8000000000001" stroke="#000" stroke-width="1.2"/>
<text transform="translate(135.60 713.75) matrix(1 0.0005 0 1 0 0) scale(0.920 1.140)" text-anchor="middle" font-weight="bold" class="b" font-size="7.7">30</text>
<line x1="158.60" y1="701.1" x2="158.60" y2="704.8000000000001" stroke="#000" stroke-width="1.2"/>
<text transform="translate(158.60 713.75) matrix(1 0.0005 0 1 0 0) scale(0.920 1.140)" text-anchor="middle" font-weight="bold" class="b" font-size="7.7">40</text>
<line x1="181.60" y1="701.1" x2="181.60" y2="704.8000000000001" stroke="#000" stroke-width="1.2"/>
<text transform="translate(181.60 713.75) matrix(1 0.0005 0 1 0 0) scale(0.920 1.140)" text-anchor="middle" font-weight="bold" class="b" font-size="7.7">50</text>
<rect x="204.1" y="609.05" width="10.20" height="4.7" fill="#000"/>
<text transform="translate(220.00 613.90) matrix(1 0.0005 0 1 0 0)" font-size="8.15">20-29 yrs</text>
<rect x="204.35" y="622.20" width="9.70" height="4.2" fill="#a6a6aa" stroke="#111" stroke-width="0.5"/>
<text transform="translate(220.00 626.80) matrix(1 0.0005 0 1 0 0)" font-size="8.15">30-39 yrs</text>
<rect x="204.35" y="635.40" width="9.70" height="4.2" fill="#fff" stroke="#111" stroke-width="0.5"/>
<text transform="translate(220.00 640.00) matrix(1 0.0005 0 1 0 0)" font-size="8.15">40+ yrs</text>
</g>
<g id="panelH">
<text transform="translate(405.60 591.90) matrix(1 0.0005 0 1 0 0)" text-anchor="middle" font-weight="bold" class="b" font-size="9.4" xml:space="preserve" style="white-space:pre">H. Forearm Plank Category by Age Group</text>
<rect x="357.00" y="609.95" width="89.95" height="8.7" fill="#fff" stroke="#111" stroke-width="0.5"/>
<rect x="357.00" y="623.65" width="82.17" height="8.7" fill="#a6a6aa" stroke="#111" stroke-width="0.5"/>
<rect x="357.00" y="637.15" width="92.34" height="9.1" fill="#000"/>
<line x1="353.40" y1="628" x2="357.00" y2="628" stroke="#000" stroke-width="1.2"/>
<text transform="translate(349.60 630.25) matrix(1 0.0005 0 1 0 0) scale(1.000 1.020)" text-anchor="end" font-weight="bold" class="b" font-size="7.3">Average</text>
<rect x="357.00" y="660.15" width="6.35" height="8.7" fill="#fff" stroke="#111" stroke-width="0.5"/>
<rect x="357.00" y="673.85" width="14.13" height="8.7" fill="#a6a6aa" stroke="#111" stroke-width="0.5"/>
<rect x="357.00" y="687.35" width="4.86" height="9.1" fill="#000"/>
<line x1="353.40" y1="678.2" x2="357.00" y2="678.2" stroke="#000" stroke-width="1.2"/>
<text transform="translate(349.60 680.45) matrix(1 0.0005 0 1 0 0) scale(1.000 1.020)" text-anchor="end" font-weight="bold" class="b" font-size="7.3">Below Average</text>
<polyline points="357.00,604 357.00,701.1 454.80,701.1" fill="none" stroke="#000" stroke-width="1.2"/>
<line x1="357.00" y1="701.1" x2="357.00" y2="704.8000000000001" stroke="#000" stroke-width="1.2"/>
<text transform="translate(357.00 713.75) matrix(1 0.0005 0 1 0 0) scale(0.920 1.140)" text-anchor="middle" font-weight="bold" class="b" font-size="7.7">0</text>
<line x1="376.44" y1="701.1" x2="376.44" y2="704.8000000000001" stroke="#000" stroke-width="1.2"/>
<text transform="translate(376.44 713.75) matrix(1 0.0005 0 1 0 0) scale(0.920 1.140)" text-anchor="middle" font-weight="bold" class="b" font-size="7.7">20</text>
<line x1="395.88" y1="701.1" x2="395.88" y2="704.8000000000001" stroke="#000" stroke-width="1.2"/>
<text transform="translate(395.88 713.75) matrix(1 0.0005 0 1 0 0) scale(0.920 1.140)" text-anchor="middle" font-weight="bold" class="b" font-size="7.7">40</text>
<line x1="415.32" y1="701.1" x2="415.32" y2="704.8000000000001" stroke="#000" stroke-width="1.2"/>
<text transform="translate(415.32 713.75) matrix(1 0.0005 0 1 0 0) scale(0.920 1.140)" text-anchor="middle" font-weight="bold" class="b" font-size="7.7">60</text>
<line x1="434.76" y1="701.1" x2="434.76" y2="704.8000000000001" stroke="#000" stroke-width="1.2"/>
<text transform="translate(434.76 713.75) matrix(1 0.0005 0 1 0 0) scale(0.920 1.140)" text-anchor="middle" font-weight="bold" class="b" font-size="7.7">80</text>
<line x1="454.20" y1="701.1" x2="454.20" y2="704.8000000000001" stroke="#000" stroke-width="1.2"/>
<text transform="translate(454.20 713.75) matrix(1 0.0005 0 1 0 0) scale(0.920 1.140)" text-anchor="middle" font-weight="bold" class="b" font-size="7.7">100</text>
<rect x="475.9" y="609.05" width="10.50" height="4.7" fill="#000"/>
<text transform="translate(492.10 613.90) matrix(1 0.0005 0 1 0 0)" font-size="8.15">20-29 yrs</text>
<rect x="476.15" y="622.20" width="10.00" height="4.2" fill="#a6a6aa" stroke="#111" stroke-width="0.5"/>
<text transform="translate(492.10 626.80) matrix(1 0.0005 0 1 0 0)" font-size="8.15">30-39 yrs</text>
<rect x="476.15" y="635.40" width="10.00" height="4.2" fill="#fff" stroke="#111" stroke-width="0.5"/>
<text transform="translate(492.10 640.00) matrix(1 0.0005 0 1 0 0)" font-size="8.15">40+ yrs</text>
</g>
<g id="notes" class="nt">
<text transform="translate(18.00 152.00) matrix(1 0.0005 0 1 0 0)" font-size="6.35"><tspan font-weight="bold" class="b">Note:</tspan> yrs = years of age, Normal = BMI of 18.5-24.9 kg/m<tspan dy="-2.5" font-size="4.3">2</tspan><tspan dy="2.5">, Overweight = BMI of</tspan></text>
<text transform="translate(18.00 160.60) matrix(1 0.0005 0 1 0 0)" font-size="6.35">25.0-29.9 kg/m<tspan dy="-2.5" font-size="4.3">2</tspan><tspan dy="2.5">, Obesity class 1 = BMI of 30.0-34.9 kg/m</tspan><tspan dy="-2.5" font-size="4.3">2</tspan><tspan dy="2.5">, Obesity Class 2 = 35.0-39.9</tspan></text>
<text transform="translate(18.00 169.20) matrix(1 0.0005 0 1 0 0)" font-size="6.35">kg/m<tspan dy="-2.5" font-size="4.3">2</tspan></text>
<text transform="translate(367.80 148.13) matrix(1 0.0005 0 1 0 0)" font-size="7.03"><tspan font-weight="bold" class="b">Note:</tspan> yrs= years of age</text>
<text transform="translate(66.80 343.13) matrix(1 0.0005 0 1 0 0)" font-size="7.02"><tspan font-weight="bold" class="b">Note:</tspan> yrs = years of age</text>
<text transform="translate(365.40 344.02) matrix(1 0.0005 0 1 0 0)" font-size="7.0" xml:space="preserve" style="white-space:pre"><tspan font-weight="bold" class="b">Note:</tspan>  yrs = years of age</text>
<text transform="translate(53.80 532.45) matrix(1 0.0005 0 1 0 0)" font-size="8.2"><tspan font-weight="bold" class="b">Note:</tspan> yrs = years of age</text>
<text transform="translate(339.50 534.56) matrix(1 0.0005 0 1 0 0)" font-size="8.22" xml:space="preserve" style="white-space:pre"><tspan font-weight="bold" class="b">Note:</tspan>  yrs = years of age</text>
<text transform="translate(70.00 730.02) matrix(1 0.0005 0 1 0 0) scale(1.012 1.180)" font-size="8.1"><tspan font-weight="bold" class="b">Note:</tspan> yrs = years of age</text>
<text transform="translate(356.80 728.92) matrix(1 0.0005 0 1 0 0) scale(1.000 1.060)" font-size="7.0"><tspan font-weight="bold" class="b">Note:</tspan> yrs = years of age</text>
</g>
</g>
</svg>
</body>
</html>
